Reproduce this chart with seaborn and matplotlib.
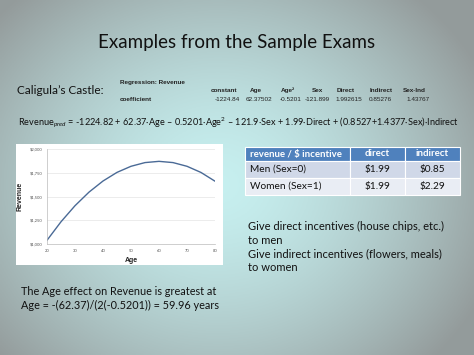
import matplotlib.pyplot as plt
import matplotlib.patches as mpatches
import matplotlib.ticker as mticker
import numpy as np
import seaborn as sns

sns.set_style("white")
plt.rcParams["font.family"] = ["Lato", "DejaVu Sans"]
plt.rcParams["mathtext.fontset"] = "custom"
plt.rcParams["mathtext.rm"] = "Lato"
plt.rcParams["mathtext.it"] = "Lato:italic"

# chart data
ages = [20, 25, 30, 35, 40, 45, 50, 55, 60, 65, 70, 75, 80]
revenue = [1039, 1234, 1403, 1546, 1663, 1754, 1818, 1857, 1870, 1857, 1818, 1753, 1661]
y_ticks = [1000, 1250, 1500, 1750, 2000]
x_ticks = [20, 30, 40, 50, 60, 70, 80]

# regression output
reg_names = ["constant", "Age", "Age²", "Sex", "Direct", "Indirect", "Sex·Ind"]
reg_coefs = ["-1224.84", "62.37502", "-0.5201", "-121.899", "1.992615", "0.85276", "1.43767"]

# incentive table
tbl_header = ["revenue / $ incentive", "direct", "indirect"]
tbl_rows = [["Men (Sex=0)", "$1.99", "$0.85"],
            ["Women (Sex=1)", "$1.99", "$2.29"]]

W, H = 474, 355
fig = plt.figure(figsize=(W / 100, H / 100), dpi=100)

def fx(x):
    return x / W

def fy(y):
    return 1 - y / H

# slide background: radial teal glow
bg = fig.add_axes([0, 0, 1, 1])
gx, gy = np.meshgrid(np.linspace(0, 1, 240), np.linspace(0, 1, 180))
d = np.sqrt(((gx - 0.46) / 0.62) ** 2 + ((gy - 0.52) / 0.72) ** 2)
d = np.clip(d, 0, 1) ** 1.5
inner = np.array([0.78, 0.94, 0.94])
outer = np.array([0.58, 0.61, 0.61])
img = inner[None, None, :] * (1 - d[..., None]) + outer[None, None, :] * d[..., None]
bg.imshow(img, extent=[0, 1, 0, 1], aspect="auto", origin="upper")
bg.axis("off")

# title and text
fig.text(0.5, fy(48), "Examples from the Sample Exams", ha="center", va="baseline",
         fontsize=13.5, color="#111111")
fig.text(fx(17), fy(94), "Caligula’s Castle:", va="baseline", fontsize=8.5, color="#111111")

arial = ["Liberation Sans", "DejaVu Sans"]
fig.text(fx(120), fy(84), "Regression: Revenue", va="baseline", fontsize=4.6,
         fontweight="bold", family=arial, color="#222222")
fig.text(fx(120), fy(101), "coefficient", va="baseline", fontsize=4.6,
         fontweight="bold", family=arial, color="#222222")
col_centers = [224, 256, 288, 317, 346, 381, 414]
col_rights = [240, 272, 302, 330, 362, 392, 430]
for c, r, name, coef in zip(col_centers, col_rights, reg_names, reg_coefs):
    fig.text(fx(c), fy(92), name, ha="center", va="baseline", fontsize=4.6,
             fontweight="bold", family=arial, color="#222222")
    fig.text(fx(r), fy(101), coef, ha="right", va="baseline", fontsize=4.6,
             family=arial, color="#222222")

fig.text(fx(18), fy(126),
         r"Revenue$_{\it{pred}}$ = -1224.82 + 62.37·Age – 0.5201·Age$^{2}$ – 121.9·Sex + 1.99·Direct + (0.8527+1.4377·Sex)·Indirect",
         va="baseline", fontsize=6.6, color="#111111")

for yb, line in zip([229.5, 243.5, 257.5, 271],
                    ["Give direct incentives (house chips, etc.)", "to men",
                     "Give indirect incentives (flowers, meals)", "to women"]):
    fig.text(fx(248), fy(yb), line, va="baseline", fontsize=8.0, color="#111111")

fig.text(fx(21), fy(295), "The Age effect on Revenue is greatest at", va="baseline",
         fontsize=7.8, color="#111111")
fig.text(fx(21), fy(309), "Age = -(62.37)/(2(-0.5201)) = 59.96 years", va="baseline",
         fontsize=7.8, color="#111111")

# chart on white card
fig.patches.append(mpatches.Rectangle((fx(16), fy(265)), (223 - 16) / W, (265 - 144) / H,
                                      transform=fig.transFigure, facecolor="white",
                                      edgecolor="none", zorder=1))
ax = fig.add_axes([fx(47), fy(244), (215 - 47) / W, (244 - 149) / H])
ax.set_zorder(2)
sns.lineplot(x=ages, y=revenue, ax=ax, color="#4A6A96", linewidth=1.0)
ax.set_xlim(20, 80)
ax.set_ylim(1000, 2000)
ax.set_xticks(x_ticks)
ax.set_yticks(y_ticks)
ax.yaxis.set_major_formatter(mticker.StrMethodFormatter("${x:,.0f}"))
ax.grid(axis="y", color="#E4E4E4", linewidth=0.5)
for s in ["top", "right"]:
    ax.spines[s].set_visible(False)
for s in ["left", "bottom"]:
    ax.spines[s].set_color("#BBBBBB")
    ax.spines[s].set_linewidth(0.5)
ax.tick_params(labelsize=3, colors="#555555", length=1.5, width=0.4, pad=2)
ax.set_xlabel("Age", fontsize=5, fontweight="bold", family=arial, labelpad=3)
ax.set_ylabel("Revenue", fontsize=5, fontweight="bold", family=arial, labelpad=4)

# incentive table
col_x = [245, 350, 405, 460]
row_y = [147, 161, 178, 195]
fills = ["#4F81BD", "#D0D8E8", "#E9EDF4"]
cells = [tbl_header] + tbl_rows
for i, row in enumerate(cells):
    for j, val in enumerate(row):
        x0, x1 = col_x[j], col_x[j + 1]
        y0, y1 = row_y[i], row_y[i + 1]
        fig.patches.append(mpatches.Rectangle((fx(x0), fy(y1)), (x1 - x0) / W, (y1 - y0) / H,
                                              transform=fig.transFigure, facecolor=fills[i],
                                              edgecolor="white", linewidth=0.8, zorder=1))
        if j == 0:
            tx, ha = x0 + 5, "left"
        else:
            tx, ha = (x0 + x1) / 2, "center"
        fig.text(fx(tx), fy((y0 + y1) / 2), val, ha=ha, va="center",
                 fontsize=6.9 if i == 0 else 7.3,
                 color="white" if i == 0 else "#111111",
                 fontweight="bold" if i == 0 else "normal")

fig.savefig("out.png", dpi=100)
